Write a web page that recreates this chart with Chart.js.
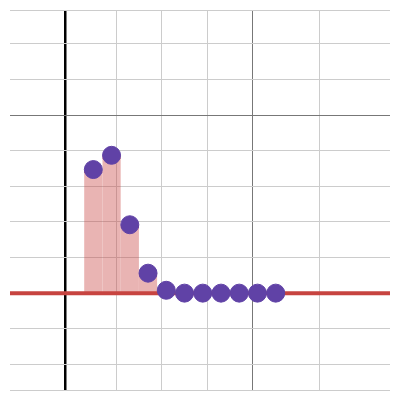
<!DOCTYPE html>
<html><head><meta charset="utf-8">
<script src="https://cdn.jsdelivr.net/npm/chart.js@4"></script>
<style>html,body{margin:0;padding:0;background:#fff}</style>
</head><body>
<canvas id="c" width="400" height="400"></canvas>
<script>
const xs = [0, 0.4, 0.8, 1.2, 1.6, 2.0, 2.4, 2.8, 3.2, 3.6, 4.0];
const ys = [3.47, 3.87, 1.92, 0.56, 0.08, 0, 0, 0, 0, 0, 0];
const axisLineX = [-2, 7];
const pts = xs.map((x, i) => ({x, y: ys[i]}));
function gridColor(major){return ctx => {if (!ctx.tick) return '#ccc'; const v = ctx.tick.value; if (Math.abs(v) < 1e-9) return '#000'; if (Math.abs(v-major) < 1e-9) return '#777'; return '#ccc';};}
function gridWidth(ctx){return (ctx.tick && Math.abs(ctx.tick.value) < 1e-9) ? 2.5 : 1;}
new Chart(document.getElementById('c'), {
  data: {datasets: [
    {type:'scatter', data: pts, backgroundColor:'#6042a6', borderColor:'#6042a6', pointRadius:9, order:0},
    {type:'line', data: axisLineX.map(x=>({x, y:0})), borderColor:'#c74440', borderWidth:4, pointRadius:0, order:1},
    {type:'bar', data: pts, backgroundColor:'rgba(199,68,64,0.4)', borderColor:'#c74440', borderWidth:{top:3,left:0,right:0,bottom:0}, borderSkipped:false, barPercentage:1, categoryPercentage:1, order:2}
  ]},
  options: {
    responsive:false, animation:false, devicePixelRatio:1,
    layout:{padding:0},
    plugins:{legend:{display:false}, tooltip:{enabled:false}},
    scales:{
      x:{type:'linear', min:-1.232, max:5.911, ticks:{display:false, stepSize:1}, border:{display:false},
         grid:{color:gridColor(4), lineWidth:gridWidth, drawTicks:false}},
      y:{type:'linear', min:-2.72, max:7.95, ticks:{display:false, stepSize:1}, border:{display:false},
         grid:{color:gridColor(5), lineWidth:gridWidth, drawTicks:false}}
    }
  }
});
</script>
</body></html>
